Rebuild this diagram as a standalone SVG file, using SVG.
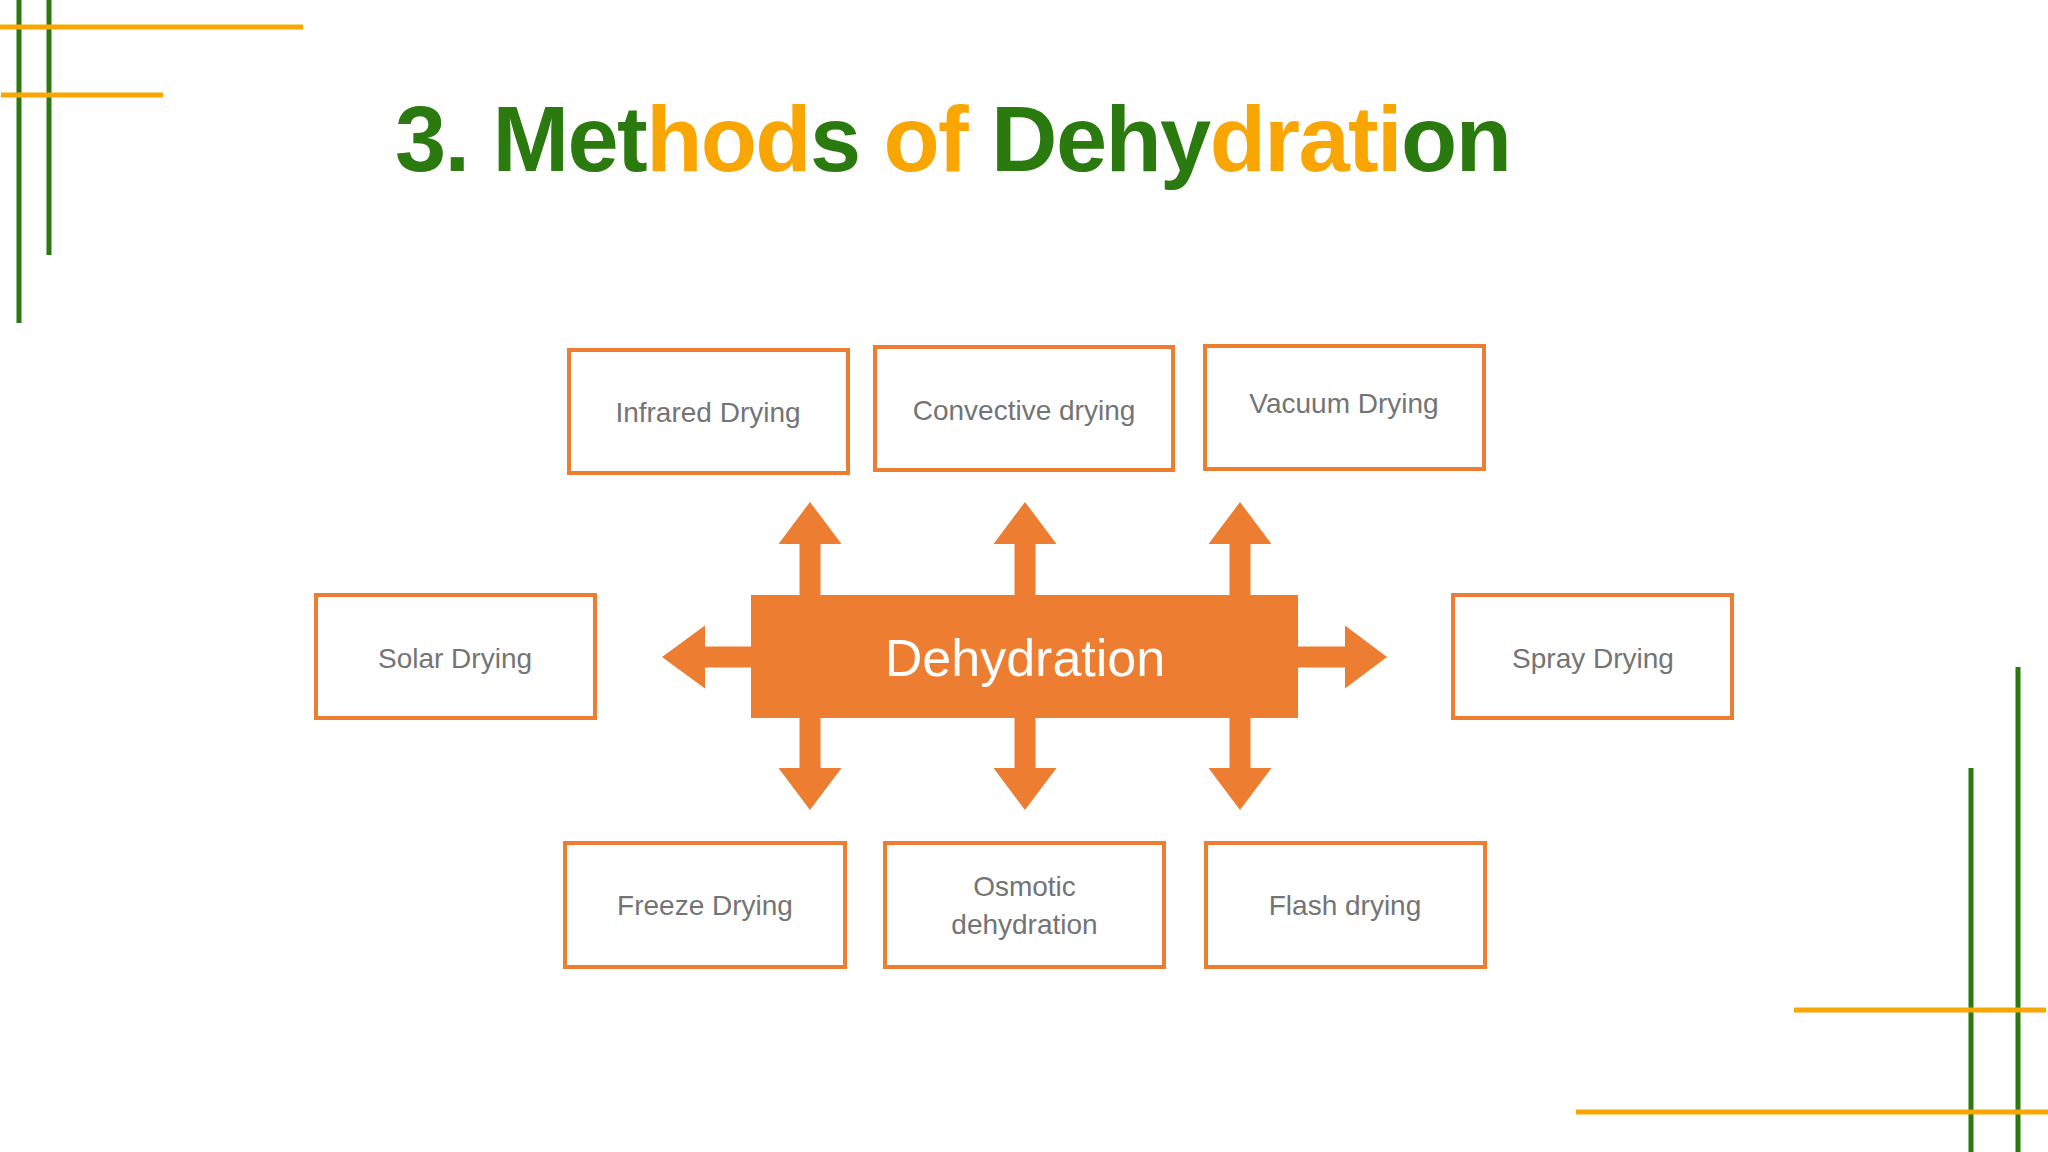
<svg xmlns="http://www.w3.org/2000/svg" width="2048" height="1152" viewBox="0 0 2048 1152">
<style>
.g{stroke:#2B7A0F;stroke-width:5}
.o{stroke:#F9A603;stroke-width:5}
.box{fill:#FFFFFF;stroke:#ED7D31;stroke-width:4}
.lbl{font-family:"Liberation Sans",Arial,sans-serif;font-size:28px;fill:#747474;text-anchor:middle}
.arr{fill:#ED7D31}
.tg{fill:#2B7A0F}
.to{fill:#F9A603}
</style>
<rect width="2048" height="1152" fill="#FFFFFF"/>
<g id="decor">
<line class="g" x1="19" y1="0" x2="19" y2="323"/>
<line class="g" x1="49" y1="0" x2="49" y2="255"/>
<line class="o" x1="0" y1="27" x2="303" y2="27"/>
<line class="o" x1="1" y1="95" x2="163" y2="95"/>
<line class="g" x1="1971" y1="768" x2="1971" y2="1152"/>
<line class="g" x1="2018" y1="667" x2="2018" y2="1152"/>
<line class="o" x1="1794" y1="1010" x2="2046" y2="1010"/>
<line class="o" x1="1576" y1="1112" x2="2048" y2="1112"/>
</g>
<g id="title">
<text x="395" y="171" font-family="'Liberation Sans',Arial,sans-serif" font-weight="bold" font-size="92" letter-spacing="-1.6"><tspan class="tg">3. Met</tspan><tspan class="to">hod</tspan><tspan class="tg">s</tspan><tspan class="to"> of </tspan><tspan class="tg">Dehy</tspan><tspan class="to">drati</tspan><tspan class="tg">on</tspan></text>
</g>
<g id="connectors">
<polygon class="arr" points="799.5,596 799.5,544 778.5,544 810,502 841.5,544 820.5,544 820.5,596"/>
<polygon class="arr" points="1014.5,596 1014.5,544 993.5,544 1025,502 1056.5,544 1035.5,544 1035.5,596"/>
<polygon class="arr" points="1229.5,596 1229.5,544 1208.5,544 1240,502 1271.5,544 1250.5,544 1250.5,596"/>
<polygon class="arr" points="799.5,717 799.5,768 778.5,768 810,810 841.5,768 820.5,768 820.5,717"/>
<polygon class="arr" points="1014.5,717 1014.5,768 993.5,768 1025,810 1056.5,768 1035.5,768 1035.5,717"/>
<polygon class="arr" points="1229.5,717 1229.5,768 1208.5,768 1240,810 1271.5,768 1250.5,768 1250.5,717"/>
<polygon class="arr" points="752,646.5 705,646.5 705,625.5 662,657 705,688.5 705,667.5 752,667.5"/>
<polygon class="arr" points="1297,646.5 1345,646.5 1345,625.5 1387,657 1345,688.5 1345,667.5 1297,667.5"/>
</g>
<g id="center">
<rect x="751" y="595" width="547" height="123" fill="#ED7D31"/>
<text x="1025" y="676" font-family="'Liberation Sans',Arial,sans-serif" font-size="52" fill="#FFFFFF" text-anchor="middle">Dehydration</text>
</g>
<g id="infrared"><rect class="box" x="569" y="350" width="279" height="123"/><text class="lbl" x="708" y="422">Infrared Drying</text></g>
<g id="convective"><rect class="box" x="875" y="347" width="298" height="123"/><text class="lbl" x="1024" y="420">Convective drying</text></g>
<g id="vacuum"><rect class="box" x="1205" y="346" width="279" height="123"/><text class="lbl" x="1344" y="413">Vacuum Drying</text></g>
<g id="solar"><rect class="box" x="316" y="595" width="279" height="123"/><text class="lbl" x="455" y="668">Solar Drying</text></g>
<g id="spray"><rect class="box" x="1453" y="595" width="279" height="123"/><text class="lbl" x="1593" y="668">Spray Drying</text></g>
<g id="freeze"><rect class="box" x="565" y="843" width="280" height="124"/><text class="lbl" x="705" y="915">Freeze Drying</text></g>
<g id="osmotic"><rect class="box" x="885" y="843" width="279" height="124"/><text class="lbl" x="1024.5" y="896">Osmotic</text><text class="lbl" x="1024.5" y="934">dehydration</text></g>
<g id="flash"><rect class="box" x="1206" y="843" width="279" height="124"/><text class="lbl" x="1345" y="915">Flash drying</text></g>
</svg>
